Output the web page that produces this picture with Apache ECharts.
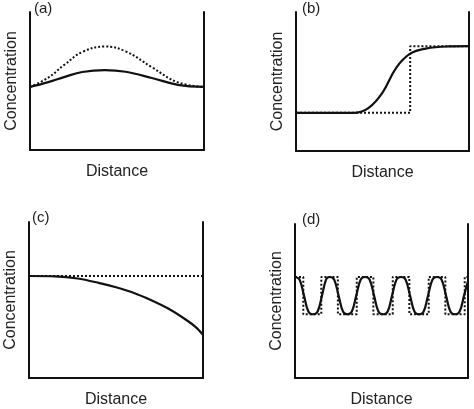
<!DOCTYPE html>
<html><head><meta charset="utf-8">
<script src="https://cdn.jsdelivr.net/npm/echarts@6/dist/echarts.min.js"></script>
<style>html,body{margin:0;padding:0;background:#fff}#c{width:474px;height:409px}</style>
</head><body><div id="c"></div>
<script>
const panelLabels = ['(a)', '(b)', '(c)', '(d)'];
const xName = 'Distance';
const yName = 'Concentration';
const aSolid = [[0,0.457],[0.1,0.49],[0.2,0.53],[0.3,0.565],[0.43,0.579],[0.55,0.567],[0.7,0.522],[0.85,0.472],[1,0.457]];
const aDotted = [[0,0.457],[0.1,0.52],[0.2,0.62],[0.3,0.71],[0.43,0.75],[0.55,0.715],[0.7,0.6],[0.85,0.49],[1,0.457]];
const bSolid = [[0,0.275],[0.34,0.275],[0.42,0.31],[0.5,0.42],[0.58,0.6],[0.66,0.7],[0.75,0.737],[0.88,0.752],[1,0.754]];
const bDotted = [[0,0.275],[0.66,0.275],[0.66,0.754],[1,0.754]];
const cSolid = [[0,0.654],[0.15,0.652],[0.28,0.638],[0.4,0.61],[0.5,0.582],[0.6,0.547],[0.7,0.5],[0.8,0.445],[0.9,0.375],[0.96,0.325],[1,0.277]];
const cDotted = [[0,0.654],[1,0.654]];
const dSolid = [[0,0.656],[0.026,0.64],[0.052,0.535],[0.078,0.43],[0.104,0.414],[0.130,0.43],[0.156,0.535],[0.180,0.64],[0.200,0.656],[0.226,0.64],[0.252,0.535],[0.278,0.43],[0.303,0.414],[0.328,0.43],[0.354,0.535],[0.380,0.64],[0.405,0.656],[0.431,0.64],[0.457,0.535],[0.483,0.43],[0.509,0.414],[0.535,0.43],[0.561,0.535],[0.587,0.64],[0.613,0.656],[0.639,0.64],[0.665,0.535],[0.691,0.43],[0.717,0.414],[0.743,0.43],[0.769,0.535],[0.795,0.64],[0.821,0.656],[0.847,0.64],[0.873,0.535],[0.899,0.43],[0.925,0.414],[0.951,0.43],[0.977,0.535],[1,0.63]];
const dDotted = [[0,0.656],[0.048,0.656],[0.048,0.414],[0.152,0.414],[0.152,0.656],[0.248,0.656],[0.248,0.414],[0.357,0.414],[0.357,0.656],[0.453,0.656],[0.453,0.414],[0.565,0.414],[0.565,0.656],[0.661,0.656],[0.661,0.414],[0.773,0.414],[0.773,0.656],[0.869,0.656],[0.869,0.414],[0.981,0.414],[0.981,0.656],[1,0.656]];

const grids = [
  {left:30, top:12, width:174, height:138},
  {left:296, top:12, width:173, height:139},
  {left:29, top:222, width:174, height:159},
  {left:295, top:224, width:173, height:157}
];
const labelPos = [[34,1],[302,1],[32,210],[302,212]];
const font = 'Liberation Sans, Arial, sans-serif';
const axisLine = {show:true, lineStyle:{color:'#111', width:2}};
const off = {show:false};
const xAxis = [], yAxis = [], series = [], title = [];
grids.forEach((g, i) => {
  xAxis.push({type:'value', gridIndex:i, min:0, max:1, axisLine, axisTick:off, axisLabel:off, splitLine:off,
    name:xName, nameLocation:'middle', nameGap:14, nameTextStyle:{fontFamily:font, fontSize:16, color:'#222'}});
  yAxis.push({type:'value', gridIndex:i, min:0, max:1, axisLine, axisTick:off, axisLabel:off, splitLine:off,
    name:yName, nameLocation:'middle', nameGap:10, nameTextStyle:{fontFamily:font, fontSize:16, color:'#222'}});
  yAxis.push({type:'value', gridIndex:i, position:'right', min:0, max:1, axisLine, axisTick:off, axisLabel:off, splitLine:off});
  title.push({text:panelLabels[i], left:labelPos[i][0], top:labelPos[i][1], padding:0,
    textStyle:{fontFamily:font, fontSize:15, fontWeight:'normal', color:'#222'}});
});
const data = [[aSolid,aDotted],[bSolid,bDotted],[cSolid,cDotted],[dSolid,dDotted]];
data.forEach((pair, i) => {
  series.push({type:'line', xAxisIndex:i, yAxisIndex:2*i, data:pair[1], showSymbol:false, smooth:i===0?0.4:0,
    lineStyle:{color:'#111', width:2, type:[2,2]}, z:2});
  series.push({type:'line', xAxisIndex:i, yAxisIndex:2*i, data:pair[0], showSymbol:false, smooth:i===2?0.3:0.4,
    lineStyle:{color:'#111', width:2.2}, z:3});
});
const chart = echarts.init(document.getElementById('c'), null, {renderer:'canvas'});
chart.setOption({animation:false, backgroundColor:'#fff', grid:grids, xAxis, yAxis, series, title});
</script></body></html>
